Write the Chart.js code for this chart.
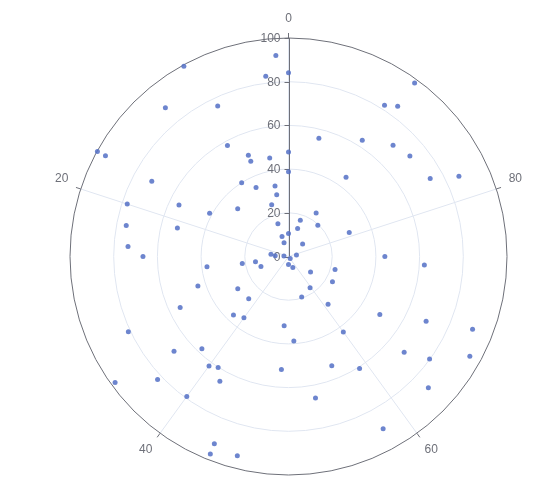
<!DOCTYPE html>
<html>
<head>
<meta charset="utf-8">
<script src="https://cdn.jsdelivr.net/npm/chart.js@4.4.1/dist/chart.umd.min.js"></script>
<style>
  body { margin: 0; background: #fff; }
  #wrap { width: 545px; height: 500px; }
</style>
</head>
<body>
<div id="wrap"><canvas id="polarChart"></canvas></div>
<script>
// angle axis runs 0..100 (counter-clockwise from the top), radius axis 0..100
const angleValues = [
  1, 0, 2, 7, 96, 8, 6, 6, 3, 0,
  0, 90, 8, 11, 17, 17, 17, 90, 91, 90,
  91, 88, 86, 83, 82, 20, 18, 17, 22, 21,
  24, 25, 27, 30, 32, 9, 7, 3, 3, 5,
  13, 91, 95, 5, 88, 95, 0, 81, 5, 5,
  86.5, 23, 24, 23.6, 77.8, 61.2, 27.5, 27.4, 30.5, 50,
  56, 70.7, 65.3, 66.7, 34, 59.6, 38, 55, 61, 75,
  74, 66, 68, 69, 32, 36, 38, 40, 41, 35,
  37, 42, 40, 44, 44, 38, 40, 49, 60, 51,
  49, 56, 59, 53, 46, 64, 65, 67, 63, 58
];
const radiusValues = [
  92.2, 84.1, 83.1, 76.1, 55.9, 58.0, 49.9, 46.9, 45.9, 47.8,
  38.8, 44.8, 99.4, 88.4, 99.8, 95.6, 71.4, 98.2, 82.0, 85.0,
  63.0, 69.9, 72.1, 74.0, 86.2, 77.6, 55.4, 41.2, 75.6, 52.5,
  73.6, 66.6, 37.6, 43.6, 54.8, 40.0, 34.9, 32.9, 28.8, 24.9,
  31.9, 23.6, 17.5, 15.7, 19.6, 13.5, 10.5, 29.9, 9.6, 6.6,
  8.6, 8.1, 6.1, 2.1, 3.7, 1.2, 15.3, 21.4, 13.4, 3.7,
  5.4, 22.1, 12.3, 23.2, 27.5, 17.4, 26.6, 19.5, 28.4, 44.1,
  62.3, 49.5, 69.6, 90.6, 81.0, 68.0, 57.9, 61.9, 60.1, 98.1,
  82.2, 65.2, 79.2, 92.2, 97.2, 36.8, 34.7, 31.8, 42.7, 38.8,
  51.8, 53.8, 60.7, 65.9, 94.2, 68.7, 79.8, 94.7, 87.8, 89.9
];
const angleTicks = [0, 20, 40, 60, 80];
const radiusTicks = [0, 20, 40, 60, 80, 100];
const ANGLE_MAX = 100;
const RADIUS_MAX = 100;

function toXY(angle, r) {
  const t = angle / ANGLE_MAX * Math.PI * 2;
  return { x: -r * Math.sin(t), y: r * Math.cos(t) };
}

const points = angleValues.map((a, i) => toXY(a, radiusValues[i]));

// draws the polar grid, both axes and their labels from the x/y scales
const polarGrid = {
  id: 'polarGrid',
  beforeDatasetsDraw(chart) {
    const ctx = chart.ctx;
    const xs = chart.scales.x;
    const ys = chart.scales.y;
    const cx = xs.getPixelForValue(0);
    const cy = ys.getPixelForValue(0);
    const unit = (xs.getPixelForValue(RADIUS_MAX) - cx) / RADIUS_MAX;
    const R = RADIUS_MAX * unit;

    ctx.save();
    ctx.lineWidth = 1;

    // split circles
    ctx.strokeStyle = '#E0E6F1';
    radiusTicks.forEach(v => {
      if (v === 0 || v === RADIUS_MAX) return;
      ctx.beginPath();
      ctx.arc(cx, cy, v * unit, 0, Math.PI * 2);
      ctx.stroke();
    });

    // spokes
    angleTicks.forEach(a => {
      const p = toXY(a, RADIUS_MAX);
      ctx.beginPath();
      ctx.moveTo(cx, cy);
      ctx.lineTo(xs.getPixelForValue(p.x), ys.getPixelForValue(p.y));
      ctx.stroke();
    });

    // outer circle (angle axis line)
    ctx.strokeStyle = '#6E7079';
    ctx.beginPath();
    ctx.arc(cx, cy, R, 0, Math.PI * 2);
    ctx.stroke();

    // angle ticks and labels
    ctx.font = '12px sans-serif';
    ctx.fillStyle = '#6E7079';
    angleTicks.forEach(a => {
      const t = a / ANGLE_MAX * Math.PI * 2;
      const dx = -Math.sin(t);
      const dy = -Math.cos(t);
      ctx.beginPath();
      ctx.moveTo(cx + dx * R, cy + dy * R);
      ctx.lineTo(cx + dx * (R + 5), cy + dy * (R + 5));
      ctx.stroke();
      const lx = cx + dx * (R + 13);
      const ly = cy + dy * (R + 13);
      ctx.textAlign = dx > 0.01 ? 'left' : (dx < -0.01 ? 'right' : 'center');
      ctx.textBaseline = dy < -0.01 ? 'bottom' : (dy > 0.01 ? 'top' : 'middle');
      ctx.fillText(String(a), lx, ly);
    });

    // radius axis along angle 0
    const ax = Math.round(cx) + 0.5;
    ctx.beginPath();
    ctx.moveTo(ax, cy);
    ctx.lineTo(ax, cy - R);
    ctx.stroke();
    ctx.textAlign = 'right';
    ctx.textBaseline = 'middle';
    radiusTicks.forEach(v => {
      const y = Math.round(ys.getPixelForValue(v)) + 0.5;
      ctx.beginPath();
      ctx.moveTo(ax, y);
      ctx.lineTo(ax - 5, y);
      ctx.stroke();
      ctx.fillText(String(v), ax - 9, y);
    });

    ctx.restore();
  }
};

new Chart(document.getElementById('polarChart'), {
  type: 'scatter',
  data: {
    datasets: [{
      data: points,
      backgroundColor: 'rgba(84, 112, 198, 0.85)',
      borderWidth: 0,
      pointRadius: 2.5,
      pointHoverRadius: 3
    }]
  },
  options: {
    responsive: true,
    maintainAspectRatio: false,
    animation: false,
    layout: { padding: { left: 70, right: 38, top: 38, bottom: 25 } },
    plugins: {
      legend: { display: false },
      tooltip: { enabled: false }
    },
    scales: {
      x: { type: 'linear', min: -RADIUS_MAX, max: RADIUS_MAX, display: false },
      y: { type: 'linear', min: -RADIUS_MAX, max: RADIUS_MAX, display: false }
    }
  },
  plugins: [polarGrid]
});
</script>
</body>
</html>
